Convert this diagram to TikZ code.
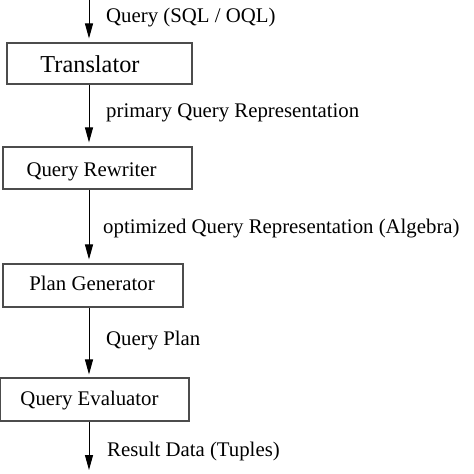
\documentclass[tikz,border=0pt]{standalone}
\usepackage{fontspec}
\setmainfont{Liberation Serif}
\usetikzlibrary{arrows.meta}
\begin{document}
\begin{tikzpicture}[x=1pt,y=-1pt,
  box/.style={draw=black!70,line width=1.1pt,rectangle,inner sep=0pt},
  boxtext/.style={inner sep=0pt,anchor=base,font=\fontsize{20.8}{25}\selectfont},
  bigtext/.style={inner sep=0pt,anchor=base,font=\fontsize{24.3}{29}\selectfont},
  lbl/.style={inner sep=0pt,anchor=base west,font=\fontsize{20.8}{25}\selectfont},
  arr/.style={line width=1pt,-{Triangle[length=15pt,width=8pt]}}]
\useasboundingbox (0,0) rectangle (474,474);
\node[box,minimum width=185pt,minimum height=41pt] (t) at (99.5,63.5) {};
\node[box,minimum width=189pt,minimum height=42pt] (r) at (97.5,168) {};
\node[box,minimum width=180pt,minimum height=43pt] (p) at (93,285.5) {};
\node[box,minimum width=188.5pt,minimum height=43pt] (e) at (94.75,399.5) {};
\node[bigtext] (tt) at (90,72) {Translator};
\node[boxtext] (rt) at (91.5,176) {Query Rewriter};
\node[boxtext] (pt) at (92,290.7) {Plan Generator};
\node[boxtext] (et) at (89.5,405) {Query Evaluator};
\coordinate (top) at (89,0);
\coordinate (bot) at (89,470);
\draw[arr,shorten >=4pt] (top) -- (t.north -| top);
\draw[arr,shorten >=4pt] (t.south -| top) -- (r.north -| top);
\draw[arr,shorten >=4pt] (r.south -| top) -- (p.north -| top);
\draw[arr,shorten >=3pt] (p.south -| top) -- (e.north -| top);
\draw[arr] (e.south -| top) -- (bot);
\node[lbl] (l1) at (106,22) {Query (SQL / OQL)};
\node[lbl] (l2) at (106,117) {primary Query Representation};
\node[lbl] (l3) at (103,233) {optimized Query Representation (Algebra)};
\node[lbl] (l4) at (106,345) {Query Plan};
\node[lbl] (l5) at (107,456) {Result Data (Tuples)};
\end{tikzpicture}
\end{document}
